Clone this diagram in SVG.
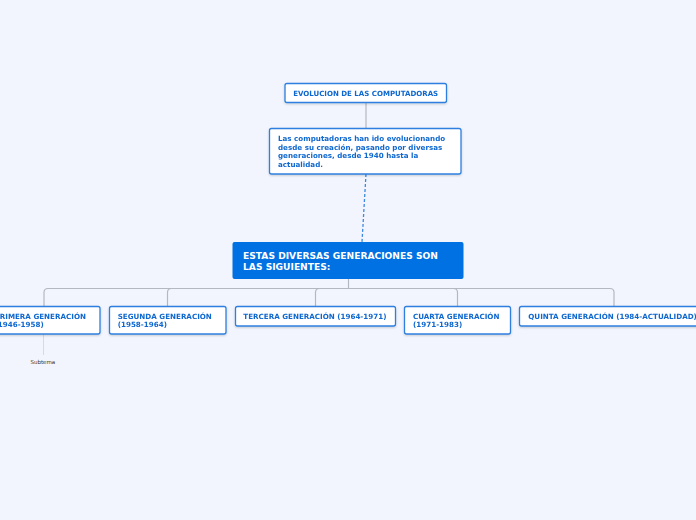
<svg xmlns="http://www.w3.org/2000/svg" width="696" height="520" viewBox="0 0 696 520">
<style>
.bg{fill:#f2f5fd}
.node{fill:#ffffff;stroke:#2d7fe0;stroke-width:1.3}
.main{fill:#0071e3}
.t{font-family:"DejaVu Sans",Verdana,sans-serif;font-weight:bold;font-size:7.15px;fill:#1068d0}
.tm{font-family:"DejaVu Sans",Verdana,sans-serif;font-weight:bold;font-size:9.15px;fill:#ffffff}
.sub{font-family:"DejaVu Sans",Verdana,sans-serif;font-size:5.5px;fill:#333333}
.c{fill:none;stroke:#b4b8c0;stroke-width:1.2}
.d{fill:none;stroke:#3d88e0;stroke-width:1.3;stroke-dasharray:3 2}
</style>
<defs>
<filter id="sh" x="-10%" y="-20%" width="120%" height="150%">
<feDropShadow dx="0" dy="1" stdDeviation="0.8" flood-color="#000" flood-opacity="0.18"/>
</filter>
</defs>
<rect class="bg" x="0" y="0" width="696" height="520"/>
<g id="connectors">
<path class="c" d="M366 103 V128"/>
<path class="d" d="M366 174 L362 242"/>
<path class="c" d="M348.5 279 V288.5"/>
<path class="c" d="M44 306 V292.5 Q44 288.5 48 288.5 H610 Q614 288.5 614 292.5 V306"/>
<path class="c" d="M167.5 306 V292.5 Q167.5 288.5 171.5 288.5"/>
<path class="c" d="M315.5 306 V292.5 Q315.5 288.5 319.5 288.5"/>
<path class="c" d="M457.5 306 V292.5 Q457.5 288.5 453.5 288.5"/>
<path d="M43.5 334.5 V355" fill="none" stroke="#d6d9de" stroke-width="1"/>
</g>
<g id="n-title" filter="url(#sh)">
<rect class="node" x="285" y="83.5" width="161.5" height="19" rx="2"/>
<text class="t" x="365.7" y="95.5" text-anchor="middle" textLength="145" lengthAdjust="spacingAndGlyphs">EVOLUCION DE LAS COMPUTADORAS</text>
</g>
<g id="n-desc" filter="url(#sh)">
<rect class="node" x="269.5" y="128.5" width="191.5" height="45.5" rx="2"/>
<text class="t" x="278" y="140.8">Las computadoras han ido evolucionando</text>
<text class="t" x="278" y="149.5">desde su creación, pasando por diversas</text>
<text class="t" x="278" y="158">generaciones, desde 1940 hasta la</text>
<text class="t" x="278" y="166.6">actualidad.</text>
</g>
<g id="n-main">
<rect class="main" x="232.5" y="242" width="231" height="37" rx="2"/>
<text class="tm" x="243" y="259">ESTAS DIVERSAS GENERACIONES SON</text>
<text class="tm" x="243" y="269.5">LAS SIGUIENTES:</text>
</g>
<g id="n-primera" filter="url(#sh)">
<rect class="node" x="-14" y="306.5" width="114" height="27.5" rx="2"/>
<text class="t" x="-5.5" y="318.6">PRIMERA GENERACIÓN</text>
<text class="t" x="-5.5" y="326.9">(1946-1958)</text>
</g>
<g id="n-segunda" filter="url(#sh)">
<rect class="node" x="109.5" y="306.5" width="116.5" height="27.5" rx="2"/>
<text class="t" x="117.7" y="318.6">SEGUNDA GENERACIÓN</text>
<text class="t" x="117.7" y="326.9">(1958-1964)</text>
</g>
<g id="n-tercera" filter="url(#sh)">
<rect class="node" x="235.5" y="306.5" width="160" height="19.5" rx="2"/>
<text class="t" x="243.3" y="319.2">TERCERA GENERACIÓN (1964-1971)</text>
</g>
<g id="n-cuarta" filter="url(#sh)">
<rect class="node" x="404.5" y="306.5" width="106" height="27.5" rx="2"/>
<text class="t" x="413" y="318.6">CUARTA GENERACIÓN</text>
<text class="t" x="413" y="326.9">(1971-1983)</text>
</g>
<g id="n-quinta" filter="url(#sh)">
<rect class="node" x="519.5" y="306.5" width="190" height="19.5" rx="2"/>
<text class="t" x="528.3" y="319.2">QUINTA GENERACIÓN (1984-ACTUALIDAD)</text>
</g>
<g id="n-subtema">
<text class="sub" x="30.5" y="364">Subtema</text>
</g>
</svg>
